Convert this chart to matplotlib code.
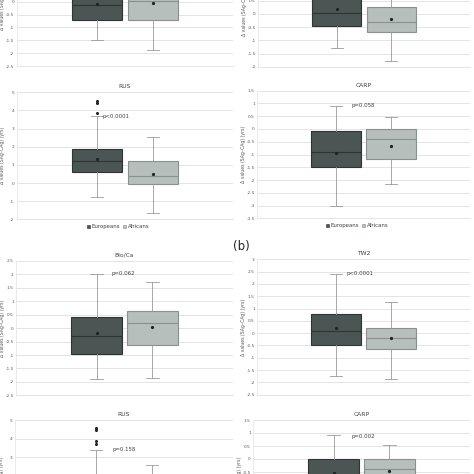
import matplotlib
matplotlib.use("Agg")
import matplotlib.pyplot as plt
from matplotlib.patches import Patch
import numpy as np

# panels: top row (cut), (a) RUS / CARP, (b) Bio/Ca / TW2, bottom row (cut)
panel_titles = ["", "", "RUS", "CARP", "Bio/Ca", "TW2", "RUS", "CARP"]
p_labels = ["", "", "p<0.0001", "p=0.058", "p=0.062", "p<0.0001", "p=0.158", "p=0.002"]
p_pos = [None, None, (-0.15, 3.64), (0.0, 0.91), (-0.02, 2.03), (-0.06, 2.41), (0.01, 3.45), (0.04, 0.85)]

# Europeans box statistics
eu_q1 = [-0.71, -0.46, 0.61, -1.50, -0.95, -0.50, 0.30, -1.30]
eu_med = [-0.13, 0.05, 1.21, -0.92, -0.29, 0.09, 0.90, -0.60]
eu_q3 = [0.60, 1.00, 1.86, -0.07, 0.42, 0.76, 1.50, 0.00]
eu_lo = [-1.49, -1.27, -0.75, -3.02, -1.89, -1.73, -1.00, -2.60]
eu_hi = [1.80, 2.00, 3.69, 0.91, 2.00, 2.41, 3.38, 0.94]
eu_mean = [-0.09, 0.19, 1.34, -0.94, -0.19, 0.22, 1.00, -0.55]
eu_fliers = [[], [], [4.52, 4.41, 3.86], [], [], [], [4.55, 4.45, 3.90, 3.70], []]

# Africans box statistics
af_q1 = [-0.71, -0.68, -0.07, -1.17, -0.62, -0.65, -0.10, -1.00]
af_med = [0.02, -0.30, 0.40, -0.39, 0.18, -0.21, 0.50, -0.40]
af_q3 = [0.60, 0.26, 1.20, 0.00, 0.64, 0.22, 1.20, 0.00]
af_lo = [-1.89, -1.76, -1.65, -2.17, -1.85, -1.85, -1.50, -2.00]
af_hi = [1.30, 1.30, 2.54, 0.48, 1.72, 1.28, 2.60, 0.53]
af_mean = [-0.05, -0.19, 0.50, -0.66, 0.05, -0.20, 0.50, -0.45]
af_fliers = [[], [], [], [], [], [], [], []]

series = ["Europeans", "Africans"]
y_limits = [(-2.5, 2.5), (-2, 2.5), (-2, 5), (-3.5, 1.5), (-2.5, 2.5), (-2.5, 3), (-2, 5), (-3.5, 1.5)]
y_steps = [0.5, 0.5, 1, 0.5, 0.5, 0.5, 1, 0.5]
with_legend = [False, False, True, True, False, False, False, False]

# axes placement in pixels: x0, x1, top, bottom
layout = [(16.7, 233, -62.5, 66), (258, 470, -52.3, 67),
          (16.7, 233, 92.3, 219.3), (257, 470, 90.7, 218.3),
          (16, 233, 261, 395.3), (257, 470, 259.3, 394.7),
          (15, 233, 420, 551), (253, 470, 420, 550)]

W = H = 474
eu_fill, eu_edge = "#4b5654", "#2c3533"
af_fill, af_edge = "#b6bfbc", "#869190"
txt = "#404040"

fig = plt.figure(figsize=(4.74, 4.74), dpi=100)
fig.patch.set_facecolor("white")

for i in range(8):
    x0, x1, yt, yb = layout[i]
    ax = fig.add_axes([x0 / W, 1 - yb / H, (x1 - x0) / W, (yb - yt) / H])
    stats = [
        dict(med=eu_med[i], q1=eu_q1[i], q3=eu_q3[i], whislo=eu_lo[i], whishi=eu_hi[i],
             mean=eu_mean[i], fliers=eu_fliers[i], label=series[0]),
        dict(med=af_med[i], q1=af_q1[i], q3=af_q3[i], whislo=af_lo[i], whishi=af_hi[i],
             mean=af_mean[i], fliers=af_fliers[i], label=series[1]),
    ]
    res = ax.bxp(stats, positions=[-0.5, 0.5], widths=0.9, patch_artist=True,
                 showmeans=True, capwidths=0.22,
                 whiskerprops=dict(color="#9a9a9a", lw=0.6),
                 capprops=dict(color="#9a9a9a", lw=0.6),
                 meanprops=dict(marker="o", markersize=1.3, markerfacecolor="#222",
                                markeredgecolor="#222"),
                 flierprops=dict(marker="o", markersize=1.2, markerfacecolor="#222",
                                 markeredgecolor="#222"))
    for b, fc, ec in zip(res["boxes"], [eu_fill, af_fill], [eu_edge, af_edge]):
        b.set_facecolor(fc)
        b.set_edgecolor(ec)
        b.set_linewidth(0.8)
    for m, ec in zip(res["medians"], [eu_edge, af_edge]):
        m.set_color(ec)
        m.set_linewidth(0.8)

    lo, hi = y_limits[i]
    ax.set_xlim(-1.94, 1.94)
    ax.set_ylim(lo, hi)
    ticks = np.arange(lo, hi + 1e-9, y_steps[i])
    ax.set_yticks(ticks)
    ax.set_yticklabels([f"{t:g}" for t in ticks])
    ax.set_xticks([])
    ax.yaxis.grid(True, color="#d9d9d9", lw=0.5)
    ax.set_axisbelow(True)
    for s in ["top", "right"]:
        ax.spines[s].set_visible(False)
    ax.spines["left"].set_color("#e3e3e3")
    ax.spines["left"].set_linewidth(0.5)
    ax.spines["bottom"].set_color("#d9d9d9")
    ax.spines["bottom"].set_linewidth(0.5)
    ax.tick_params(axis="y", length=0, labelsize=3.1, labelcolor="#595959", pad=1.6)
    ax.set_ylabel("Δ values (SAg–CAg) (yrs)", fontsize=3.3, color="#595959")
    ax.yaxis.set_label_coords(-0.052, 0.5)
    if panel_titles[i]:
        ax.set_title(panel_titles[i], fontsize=4.3, color=txt, pad=3)
    if p_labels[i]:
        px, py = p_pos[i]
        ax.text(px, py, p_labels[i], fontsize=3.9, color=txt, ha="center", va="center")
    if with_legend[i]:
        handles = [Patch(facecolor=eu_fill, edgecolor=eu_edge, lw=0.4),
                   Patch(facecolor=af_fill, edgecolor=af_edge, lw=0.4)]
        ax.legend(handles, series, loc="center", bbox_to_anchor=(0.47, -0.058), ncol=2,
                  frameon=False, fontsize=3.9, handlelength=0.6, handleheight=0.6,
                  handletextpad=0.3, columnspacing=0.5, labelcolor=txt)

fig.text(241.5 / W, 1 - 247 / H, "(b)", fontsize=8.5, color="#222", ha="center", va="center")

fig.savefig("out.png", dpi=100)
